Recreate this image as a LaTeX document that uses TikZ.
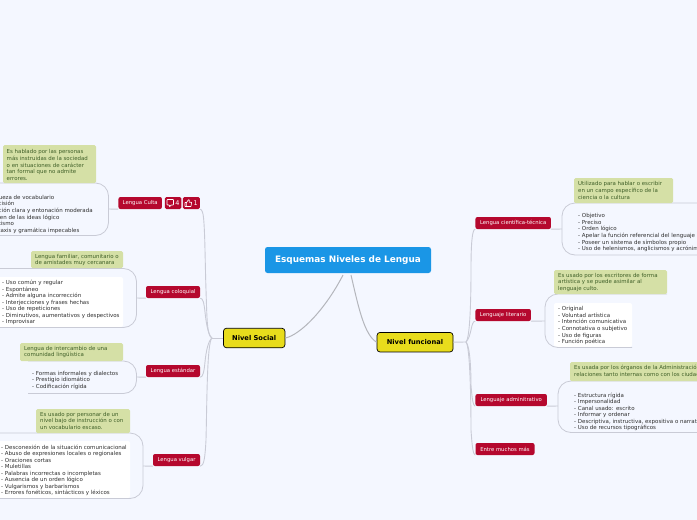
\documentclass[tikz,border=0pt]{standalone}
\usepackage{fontspec}
\setmainfont{DejaVu Sans}
\definecolor{bgc}{HTML}{F4F7FF}
\definecolor{rootc}{HTML}{1A96E6}
\definecolor{yel}{HTML}{E8DC1C}
\definecolor{redc}{HTML}{B5082E}
\definecolor{notec}{HTML}{D5E0A6}
\definecolor{notet}{HTML}{3F5F28}
\definecolor{linec}{HTML}{C9CBD6}
\definecolor{rootl}{HTML}{B4B6BC}
\definecolor{listt}{HTML}{303030}
\tikzset{
 rootbox/.style={fill=rootc,rounded corners=2.5pt,text=white,font=\fontsize{8.9}{10}\selectfont\bfseries,inner sep=0pt,minimum width=166pt,minimum height=26pt},
 levelbox/.style={fill=yel,draw=black,line width=.7pt,rounded corners=3pt,font=\fontsize{6.7}{8}\selectfont\bfseries,inner sep=0pt,minimum height=19.5pt},
 topicbox/.style={fill=redc,rounded corners=2pt,text=white,font=\fontsize{5.3}{6}\selectfont,inner sep=0pt,minimum height=12pt},
 iconbox/.style={fill=redc,rounded corners=1.5pt,text=white,font=\fontsize{6.5}{7}\selectfont,inner sep=0pt,minimum height=12pt},
 notebox/.style={fill=notec,rounded corners=1.5pt,inner sep=0pt},
 notetext/.style={anchor=north west,text=notet,font=\fontsize{5.45}{6.6}\selectfont,align=left,inner sep=0pt},
 listtext/.style={anchor=north west,text=listt,font=\fontsize{5.5}{6.55}\selectfont,align=left,inner sep=0pt},
 whitebox/.style={fill=white,rounded corners=2pt,inner sep=0pt},
 brack/.style={draw=linec,line width=.8pt,rounded corners=13pt},
 stem/.style={draw=linec,line width=.9pt},
 trunk/.style={draw=linec,line width=.9pt},
 rootlink/.style={draw=rootl,line width=1pt},
}
\begin{document}
\begin{tikzpicture}[x=1pt,y=-1pt]
\useasboundingbox (0,0) rectangle (697,520);
\clip (0,0) rectangle (697,520);
\fill[bgc] (0,0) rectangle (697,520);

% white list backgrounds
\fill[whitebox] (-5,277) rectangle (123,327);
\fill[whitebox] (-5,441) rectangle (130,498);
\fill[whitebox] (554,303) rectangle (632,347);

% nodes
\node[rootbox] (root) at (348,260) {\raisebox{-1pt}{Esquemas Niveles de Lengua}};
\node[levelbox,minimum width=61.5pt] (soc) at (254.2,338) {Nivel Social};
\node[levelbox,minimum width=76pt] (fun) at (415,342.2) {Nivel funcional};

\node[topicbox,minimum width=43.5pt] (culta) at (140.2,203) {Lengua Culta};
\node[topicbox,minimum width=54pt] (colo) at (173,292) {Lengua coloquial};
\node[topicbox,minimum width=54pt] (esta) at (173,371) {Lengua estándar};
\node[topicbox,minimum width=47pt] (vulg) at (176.5,460) {Lengua vulgar};
\node[topicbox,minimum width=75.5pt] (cien) at (513.2,223) {Lengua científica-técnica};
\node[topicbox,minimum width=55.5pt] (lite) at (503.2,315) {Lenguaje literario};
\node[topicbox,minimum width=71.5pt] (admi) at (511.2,400) {Lenguaje adminitrativo};
\node[topicbox,minimum width=59pt] (entr) at (505,449) {Entre muchos más};

% icons
\node[iconbox,minimum width=16.5pt,anchor=west] (ic1) at (164.6,203) {};
\node[iconbox,minimum width=17pt,anchor=west] (ic2) at (182.6,203) {};
\node[text=white,font=\fontsize{6.5}{7}\selectfont,inner sep=0pt] (n1) at (177.5,203.3) {4};
\node[text=white,font=\fontsize{6.5}{7}\selectfont,inner sep=0pt] (n2) at (195.8,203.3) {1};
\draw[white,line width=.6pt,rounded corners=.6pt] (167,199.5) -- (173.5,199.5) -- (173.5,205) -- (171,205) -- (169.5,207) -- (169.5,205) -- (167,205) -- cycle;
\draw[white,line width=.6pt,rounded corners=.4pt] (185,202.5) -- (186.6,202.5) -- (186.6,206.5) -- (185,206.5) -- cycle (186.6,202.5) -- (188.6,199.5) -- (189.4,200) -- (189,202.2) -- (191.6,202.2) -- (191,206.5) -- (186.6,206.5);

% root links
\draw[rootlink] (soc.east) .. controls (300,335) and (325,310) .. (343,275);
\draw[rootlink] (351,275) .. controls (358,305) and (364,335) .. (fun.west);

% trunks left
\coordinate (sj) at (212,338);
\draw[stem] (soc.west) -- (sj);
\draw[trunk] (sj) .. controls (207,336) and (207,320) .. (206,290) .. controls (205,260) and (205,225) .. (203,214) .. controls (202,210) and (201,209) .. (ic2.south east);
\draw[trunk] (sj) .. controls (208,335) and (206,322) .. (205,312) .. controls (204,303) and (203,298) .. (colo.south east);
\draw[trunk] (sj) .. controls (208,341) and (206,352) .. (205,362) .. controls (204,372) and (203,377) .. (esta.south east);
\draw[trunk] (sj) .. controls (207,342) and (207,400) .. (206,440) .. controls (205,458) and (204,466) .. (vulg.south east);

% trunks right
\coordinate (fj) at (466,342);
\draw[stem] (fun.east) -- (fj);
\draw[trunk] (fj) .. controls (470,338) and (471,300) .. (471,270) .. controls (471,245) and (472,229) .. (cien.south west);
\draw[trunk] (fj) .. controls (469,339) and (470,334) .. (471,330) .. controls (472,325) and (473,321) .. (lite.south west);
\draw[trunk] (fj) .. controls (470,346) and (471,370) .. (471,385) .. controls (472,398) and (473,406) .. (admi.south west);
\draw[trunk] (fj) .. controls (470,346) and (471,400) .. (471,430) .. controls (472,445) and (473,455) .. (entr.south west);

% brackets left
\coordinate (bc) at (108.5,209);
\draw[stem] (culta.south west) -- (bc);
\draw[brack] (-5,183) -- (108.5,183) -- (108.5,235.5) -- (-5,235.5);
\coordinate (bl) at (136.5,298);
\draw[stem] (colo.south west) -- (bl);
\draw[brack] (-5,268.5) -- (136.5,268.5) -- (136.5,327.5) -- (-5,327.5);
\coordinate (be) at (136.5,377);
\draw[stem] (esta.south west) -- (be);
\draw[brack] (28,361) -- (136.5,361) -- (136.5,393.5) -- (28,393.5);
\coordinate (bv) at (143,466);
\draw[stem] (vulg.south west) -- (bv);
\draw[brack] (-5,433) -- (143,433) -- (143,498.5) -- (-5,498.5);

% brackets right
\coordinate (br1) at (562,229);
\draw[stem] (cien.south east) -- (br1);
\draw[brack] (705,203) -- (562,203) -- (562,255) -- (705,255);
\coordinate (br2) at (545,321);
\draw[stem] (lite.south east) -- (br2);
\draw[brack] (667,294) -- (545,294) -- (545,347.5) -- (632,347.5);
\coordinate (br3) at (558,406);
\draw[stem] (admi.south east) -- (br3);
\draw[brack] (705,381) -- (558,381) -- (558,432.5) -- (705,432.5);

% notes
\fill[notebox] (3,145) rectangle (96,183);
\fill[notebox] (31,251) rectangle (123,268);
\fill[notebox] (20,343) rectangle (123,361);
\fill[notebox] (36,409) rectangle (130,433);
\fill[notebox] (574,178) rectangle (673,203);
\fill[notebox] (554,270) rectangle (667,294);
\fill[notebox] (570,362) rectangle (705,381);

\node[notetext] (t1) at (6.5,149.5) {Es hablado por las personas\\más instruidas de la sociedad\\o en situaciones de carácter\\tan formal que no admite\\errores.};
\node[notetext] (t2) at (35,254) {Lengua familiar, comunitario o\\de amistades muy cercanara};
\node[notetext] (t3) at (24,346) {Lengua de intercambio de una\\comunidad lingüística};
\node[notetext] (t4) at (40,412) {Es usado por personar de un\\nivel bajo de instrucción o con\\un vocabulario escaso.};
\node[notetext] (t5) at (578,181.5) {Utilizado para hablar o escribir\\en un campo específico de la\\ciencia o la cultura};
\node[notetext] (t6) at (558,273) {Es usado por los escritores de forma\\artística y se puede asimilar  al\\lenguaje culto.};
\node[notetext] (t7) at (574,365) {Es usada por los órganos de la Administración en sus\\relaciones tanto internas como con los ciudadanos};

% lists
\node[listtext] (l1b) at (-14,195) {- Riqueza de vocabulario\\- Precisión\\- Dicción clara y entonación moderada\\- Orden de las ideas lógico\\- Cultismo\\- Sintaxis y gramática impecables};
\node[listtext] (l2) at (2,280) {- Uso común y regular\\- Espontáneo\\- Admite alguna incorrección\\- Interjecciones y frases hechas\\- Uso de repeticiones\\- Diminutivos, aumentativos y despectivos\\- Improvisar};
\node[listtext] (l3) at (32,371) {- Formas informales y dialectos\\- Prestigio idiomático\\- Codificación rígida};
\node[listtext] (l4) at (1,444.5) {- Desconexión de la situación comunicacional\\- Abuso de expresiones locales o regionales\\- Oraciones cortas\\- Muletillas\\- Palabras incorrectas o incompletas\\- Ausencia de un orden lógico\\- Vulgarismos y barbarismos\\- Errores fonéticos, sintácticos y léxicos};
\node[listtext] (l5) at (578,213.5) {- Objetivo\\- Preciso\\- Orden lógico\\- Apelar la función referencial del lenguaje\\- Poseer un sistema de símbolos propio\\- Uso de helenismos, anglicismos y acrónimos};
\node[listtext] (l6) at (558,306.5) {- Original\\- Voluntad artística\\- Intención comunicativa\\- Connotativa o subjetivo\\- Uso de figuras\\- Función poética};
\node[listtext] (l7) at (574,392.5) {- Estructura rígida\\- Impersonalidad\\- Canal usado: escrito\\- Informar y ordenar\\- Descriptiva, instructiva, expositiva o narrativa\\- Uso de recursos tipográficos};
\end{tikzpicture}
\end{document}
